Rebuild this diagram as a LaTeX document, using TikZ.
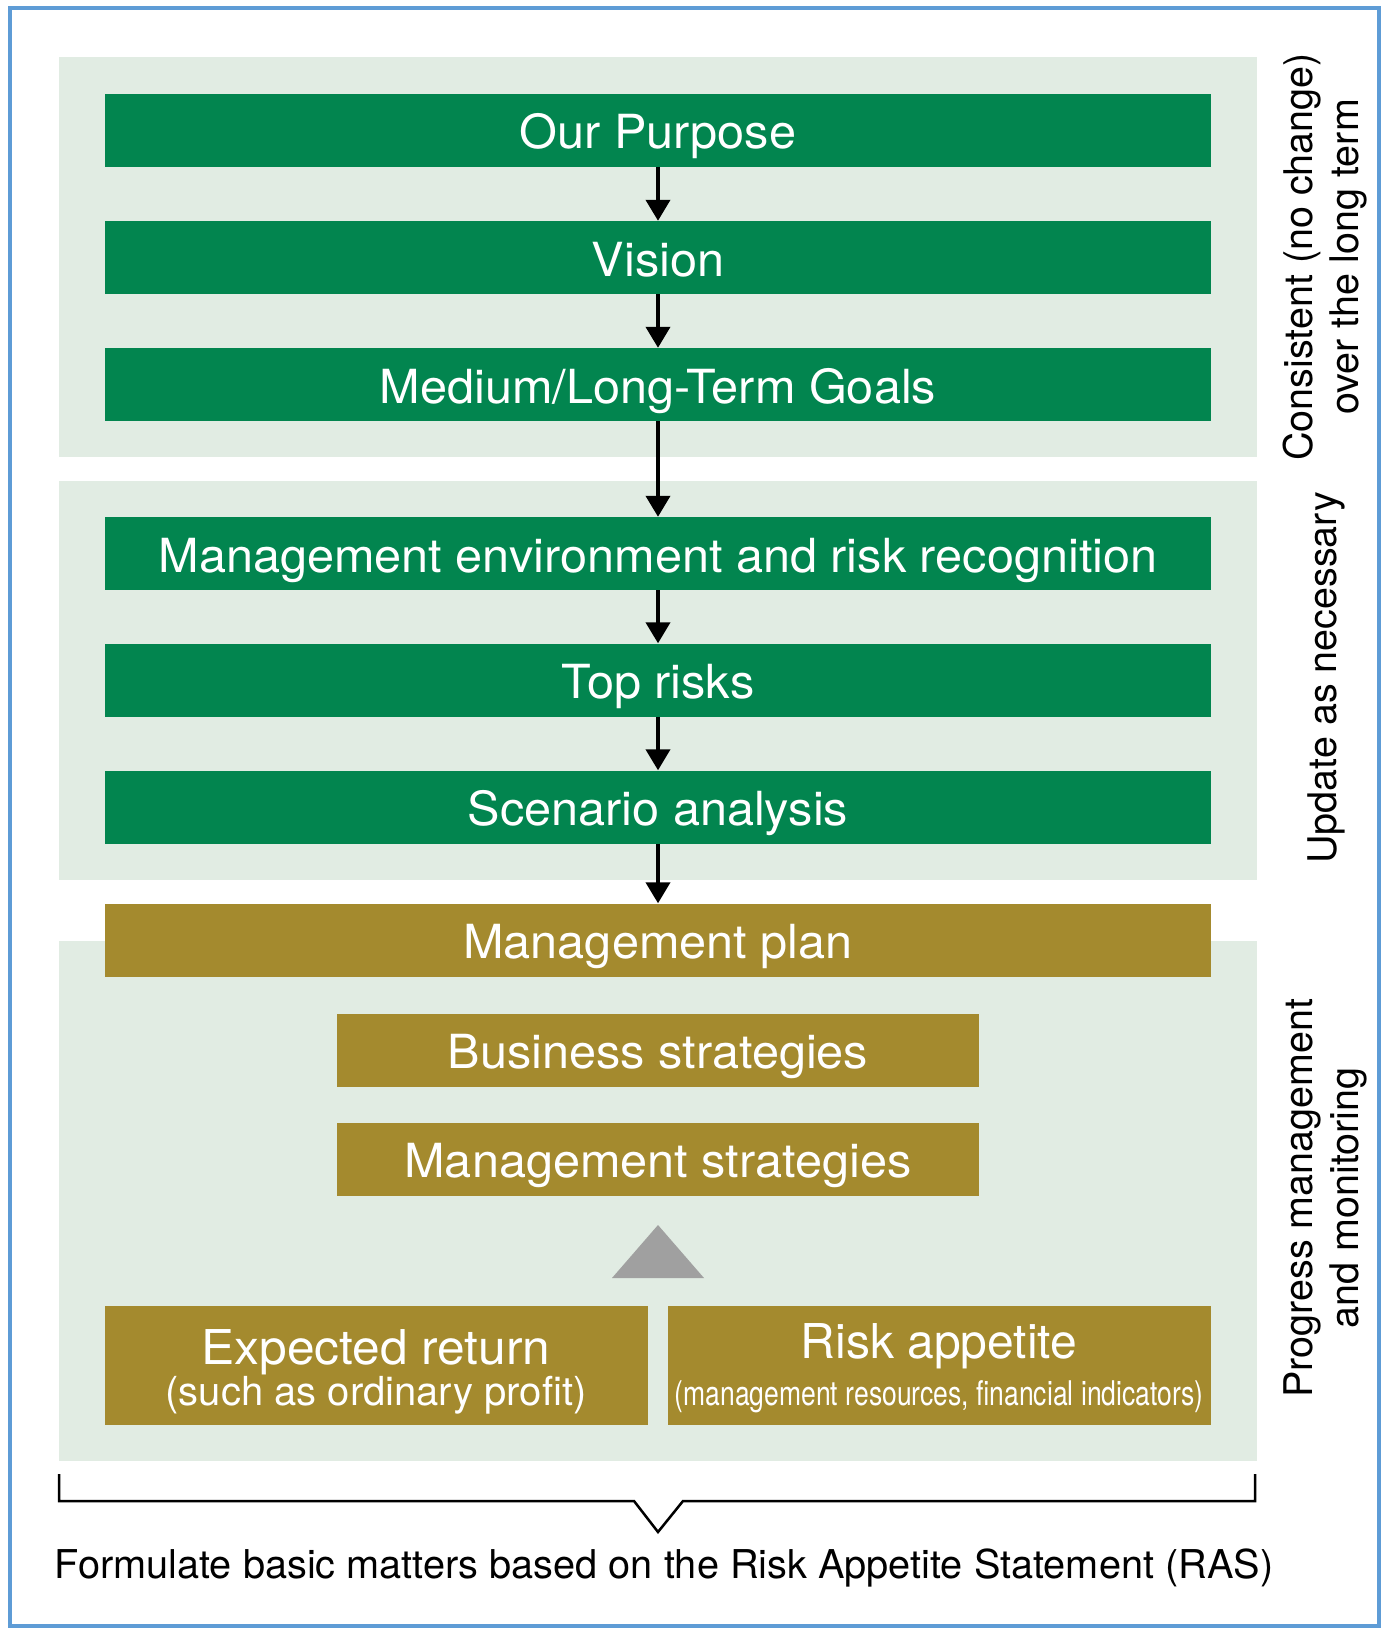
\documentclass[tikz,border=0pt]{standalone}
\usepackage{fontspec}
\setmainfont{TeX Gyre Heros}
\newfontfamily\boxfont[FakeStretch=1.035]{TeX Gyre Heros}
\newfontfamily\narrowfont[FakeStretch=0.78]{TeX Gyre Heros}
\usepackage{tikz}
\usetikzlibrary{arrows.meta, positioning}
\definecolor{plangreen}{RGB}{2, 133, 79}
\definecolor{plangold}{RGB}{164, 138, 46}
\definecolor{panelgreen}{RGB}{225, 236, 227}
\definecolor{frameblue}{RGB}{94, 156, 214}
\definecolor{tipgray}{RGB}{160, 160, 160}

\begin{document}
\begin{tikzpicture}[x=1pt, y=-1pt,
  panel/.style={fill=panelgreen, inner sep=0pt, minimum width=1198pt},
  greenbox/.style={fill=plangreen, text=white, inner sep=0pt, minimum width=1106pt, minimum height=73pt,
    font=\boxfont\fontsize{47pt}{56pt}\selectfont, text height=37pt, text depth=0pt},
  goldbox/.style={greenbox, fill=plangold},
  pairbox/.style={fill=plangold, text=white, inner sep=0pt, minimum width=543pt, minimum height=119pt, align=center},
  flow/.style={-{Triangle[width=24pt, length=21pt]}, line width=4pt},
  sidelabel/.style={rotate=90, align=center, font=\fontsize{39.5pt}{46pt}\selectfont}
]
  \useasboundingbox (0, 0) rectangle (1388, 1636);

  % Outer frame
  \draw[frameblue, line width=3.5pt] (10, 8) rectangle (1379, 1626);

  % Background panels
  \node[panel, minimum height=400pt] (panelA) at (658, 257) {};
  \node[panel, minimum height=399pt] (panelB) at (658, 680.5) {};
  \node[panel, minimum height=520pt] (panelC) at (658, 1201) {};

  % Long-term chain
  \node[greenbox] (purpose) at (658, 130) {Our Purpose};
  \node[greenbox] (vision) at (658, 257.5) {Vision};
  \node[greenbox] (goals) at (658, 384.5) {Medium/Long-Term Goals};

  % Risk chain
  \node[greenbox] (environ) at (658, 553.5) {Management environment and risk recognition};
  \node[greenbox] (toprisks) at (658, 680) {Top risks};
  \node[greenbox] (scenario) at (658, 807) {Scenario analysis};

  % Plan
  \node[goldbox] (plan) at (658, 940) {Management plan};
  \node[goldbox, minimum width=642pt] (business) at (658, 1050) {Business strategies};
  \node[goldbox, minimum width=642pt] (mgmtstrat) at (658, 1159) {Management strategies};

  \fill[tipgray] (612, 1278) -- (658, 1225) -- (704, 1278) -- cycle;

  \node[pairbox, font=\fontsize{40pt}{38pt}\selectfont] (expected) at (376, 1365)
    {{\boxfont\fontsize{48pt}{38pt}\selectfont\rule{0pt}{48pt}Expected return}\\(such as ordinary profit)};
  \node[pairbox, font=\fontsize{34pt}{47pt}\selectfont] (appetite) at (939, 1365)
    {{\fontsize{48pt}{47pt}\selectfont\rule{0pt}{41pt}Risk appetite}\\{\narrowfont (management resources, financial indicators)}};

  % Arrows
  \draw[flow] (purpose) -- (vision);
  \draw[flow] (vision) -- (goals);
  \draw[flow] (goals) -- (environ);
  \draw[flow] (environ) -- (toprisks);
  \draw[flow] (toprisks) -- (scenario);
  \draw[flow] (scenario) -- (plan);

  % Side labels
  \node[sidelabel] (steady) at (1325, 257) {Consistent (no change)\\over the long term};
  \node[sidelabel] (update) at (1326, 678) {Update as necessary};
  \node[sidelabel] (progress) at (1325, 1198) {Progress management\\and monitoring};

  % Bracket and RAS note
  \draw[line width=2.5pt] (59, 1474) |- (634, 1501) -- (658, 1532) -- (683, 1501) -| (1255, 1474);
  \node[font=\fontsize{39.7pt}{44pt}\selectfont, anchor=base] (ras) at (664, 1578)
    {Formulate basic matters based on the Risk Appetite Statement (RAS)};
\end{tikzpicture}
\end{document}
